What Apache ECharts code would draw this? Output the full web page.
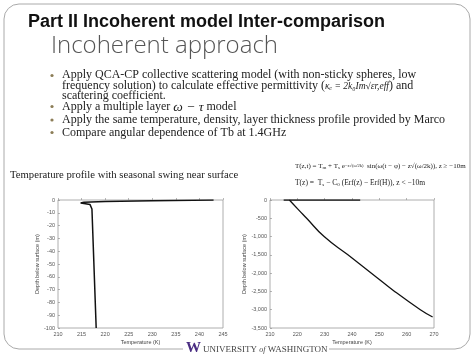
<!DOCTYPE html>
<html><head><meta charset="utf-8">
<script src="https://cdn.jsdelivr.net/npm/echarts@6/dist/echarts.min.js"></script>
<style>html,body{margin:0;padding:0;background:#fff}#c{width:474px;height:355px}</style>
</head><body><div id="c"></div>
<script>
// Left chart: temperature profile with seasonal swing near surface
const leftTemp  = [243, 230, 220, 215.5, 214.8, 215.5, 216.8, 217.1, 217.2, 218.1];
const leftDepth = [0, -0.5, -1.1, -1.7, -2.3, -2.8, -3.6, -5, -7, -100];
// Right chart: deep profile
const rightTemp  = [217.1, 220.2, 223.4, 229.8, 238.5, 247.1, 255.6, 265.0, 269.5];
const rightDepth = [0, -250, -500, -1000, -1500, -2000, -2500, -3000, -3200];
const surfTemp  = [215, 243];
const surfDepth = [0, 0];

const zip = (a, b) => a.map((v, i) => [v, b[i]]);
const chart = echarts.init(document.getElementById('c'), null, {renderer: 'canvas'});

const axisCommon = {
  type: 'value',
  splitLine: {show: false},
  axisLine: {show: false},
  axisTick: {show: true, inside: true, length: 2, lineStyle: {color: '#888', width: 0.6}},
  axisLabel: {fontSize: 5.5, color: '#555', margin: 3, fontFamily: 'Liberation Sans'},
  nameTextStyle: {fontSize: 5.5, color: '#444', fontFamily: 'Liberation Sans'},
  nameLocation: 'middle'
};

const serif = 'Liberation Serif';
const graphic = [
  {type: 'rect', shape: {x: 4, y: 4, width: 466, height: 345, r: 15}, style: {fill: 'none', stroke: '#aaa', lineWidth: 1}, z: 1},
  {type: 'text', left: 28, top: 13, style: {text: 'Part II Incoherent model Inter-comparison', font: 'bold 18px "Liberation Sans"', fill: '#111'}},
  {type: 'text', left: 51, top: 34, style: {text: 'Incoherent approach', font: '300 24px "Open Sans"', fill: '#555'}},
  // bullets
  {type: 'circle', shape: {cx: 52, cy: 75.5, r: 1.6}, style: {fill: '#8c7d57'}},
  {type: 'circle', shape: {cx: 52, cy: 106.5, r: 1.6}, style: {fill: '#8c7d57'}},
  {type: 'circle', shape: {cx: 52, cy: 120, r: 1.6}, style: {fill: '#8c7d57'}},
  {type: 'circle', shape: {cx: 52, cy: 132.5, r: 1.6}, style: {fill: '#8c7d57'}},
  {type: 'text', left: 62, top: 69, style: {text: 'Apply QCA-CP collective scattering model (with non-sticky spheres, low', font: '12px "Liberation Serif"', fill: '#222'}},
  {type: 'text', left: 62, top: 80, style: {
    text: '{a|frequency solution) to calculate effective permittivity (}{i|κₑ = 2k₀Im√εr,eff}{a|) and}',
    rich: {a: {fontFamily: serif, fontSize: 12, fill: '#222'}, i: {fontFamily: serif, fontStyle: 'italic', fontSize: 9.5, fill: '#222'}}}},
  {type: 'text', left: 62, top: 90, style: {text: 'scattering coefficient.', font: '12px "Liberation Serif"', fill: '#222'}},
  {type: 'text', left: 62, top: 100, style: {
    text: '{a|Apply a multiple layer }{i|ω − τ}{a| model}',
    rich: {a: {fontFamily: serif, fontSize: 12, fill: '#222'}, i: {fontFamily: serif, fontStyle: 'italic', fontSize: 13.5, fill: '#222'}}}},
  {type: 'text', left: 62, top: 114, style: {text: 'Apply the same temperature, density, layer thickness profile provided by Marco', font: '12px "Liberation Serif"', fill: '#222'}},
  {type: 'text', left: 62, top: 126.5, style: {text: 'Compare angular dependence of Tb at 1.4GHz', font: '12px "Liberation Serif"', fill: '#222'}},
  // formulas
  {type: 'text', left: 295, top: 163, style: {
    text: '{a|T(z,t) = T}{b|m}{a| + T}{b|s}{a| e}{c|−z√(ω/2k)}{a|  sin(ω(t − φ) − z√(ω/2k)), z ≥ −10m}',
    rich: {a: {fontFamily: serif, fontSize: 7, fill: '#222'}, b: {fontFamily: serif, fontSize: 5, fill: '#222', verticalAlign: 'bottom'}, c: {fontFamily: serif, fontSize: 4.5, fill: '#222', verticalAlign: 'top'}}}},
  {type: 'text', left: 295, top: 179, style: {
    text: '{a|T(z) =  T}{b|s}{a| − C}{b|0}{a| (Erf(z) − Erf(H)), z < −10m}',
    rich: {a: {fontFamily: serif, fontSize: 7.5, fill: '#222'}, b: {fontFamily: serif, fontSize: 5, fill: '#222', verticalAlign: 'bottom'}}}},
  {type: 'text', left: 10, top: 170, style: {text: 'Temperature profile with seasonal swing near surface', font: '10.7px "Liberation Serif"', fill: '#222'}},
  // UW logo
  {type: 'rect', shape: {x: 183, y: 340, width: 146, height: 15}, style: {fill: '#fff'}, z: 2},
  {type: 'text', left: 186, top: 341, z: 3, style: {text: 'W', font: 'bold 15px "Liberation Serif"', fill: '#4b2e83'}},
  {type: 'text', left: 203, top: 345, z: 3, style: {
    text: '{a|UNIVERSITY }{o|of}{a| WASHINGTON}',
    rich: {a: {fontFamily: serif, fontSize: 9, fill: '#444'}, o: {fontFamily: serif, fontStyle: 'italic', fontSize: 8, fill: '#444'}}}}
];

chart.setOption({
  animation: false,
  backgroundColor: '#fff',
  graphic: graphic,
  grid: [
    {left: 58, top: 200, width: 165, height: 128, show: true, borderColor: '#999', borderWidth: 0.8, containLabel: false},
    {left: 270, top: 200, width: 164, height: 128, show: true, borderColor: '#999', borderWidth: 0.8, containLabel: false}
  ],
  xAxis: [
    Object.assign({}, axisCommon, {gridIndex: 0, min: 210, max: 245, interval: 5, name: 'Temperature (K)', nameGap: 11}),
    Object.assign({}, axisCommon, {gridIndex: 1, min: 210, max: 270, interval: 10, name: 'Temperature (K)', nameGap: 11})
  ],
  yAxis: [
    Object.assign({}, axisCommon, {gridIndex: 0, min: -100, max: 0, interval: 10, name: 'Depth below surface (m)', nameGap: 16}),
    Object.assign({}, axisCommon, {gridIndex: 1, min: -3500, max: 0, interval: 500, name: 'Depth below surface (m)', nameGap: 21})
  ],
  series: [
    {type: 'line', xAxisIndex: 0, yAxisIndex: 0, data: zip(leftTemp, leftDepth), showSymbol: false, lineStyle: {color: '#111', width: 1.5}},
    {type: 'line', xAxisIndex: 1, yAxisIndex: 1, data: zip(surfTemp, surfDepth), showSymbol: false, lineStyle: {color: '#111', width: 1.5}},
    {type: 'line', xAxisIndex: 1, yAxisIndex: 1, data: zip(rightTemp, rightDepth), showSymbol: false, smooth: true, lineStyle: {color: '#111', width: 1.3}}
  ]
});
</script></body></html>
